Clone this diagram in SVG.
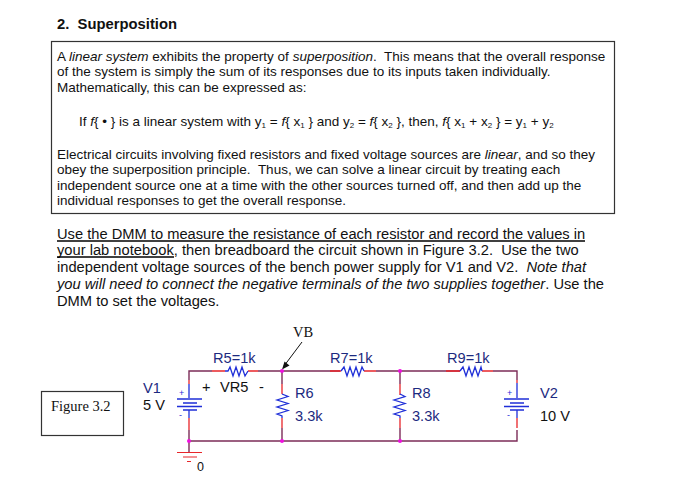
<svg xmlns="http://www.w3.org/2000/svg" width="684" height="486" viewBox="0 0 684 486">
<style>
text{font-family:"Liberation Sans",Arial,sans-serif;fill:#111;white-space:pre}
.b{font-size:13.5px}
.m{font-size:14.7px}
.l{font-size:14.6px;fill:#1c2a80}
.k{font-size:14.6px;fill:#111}
.s{font-family:"Liberation Serif","Times New Roman",serif;font-size:14.5px}
.w{fill:none;stroke:#7c2c58;stroke-width:1.4}
.r{fill:none;stroke:#e8262a;stroke-width:1.3}
.c{fill:none;stroke:#1f2fd8;stroke-width:1.3}
.d{fill:#f010e0}
.u{stroke:#000;stroke-width:1.3}
.p{font-size:9px;fill:#1f2fd8}
</style>
<rect width="684" height="486" fill="#fff"/>
<g id="page-text">
<text x="57" y="29" style="font-size:14.8px;font-weight:bold">2.  Superposition</text>
<rect x="51.5" y="41.5" width="563" height="172" fill="none" stroke="#333" stroke-width="1.2"/>
<text class="b" x="57" y="61">A <tspan font-style="italic">linear system</tspan> exhibits the property of <tspan font-style="italic">superposition</tspan>.  This means that the overall response</text>
<text class="b" x="57" y="76">of the system is simply the sum of its responses due to its inputs taken individually.</text>
<text class="b" x="57" y="92">Mathematically, this can be expressed as:</text>
<text class="b" x="79" y="126">If <tspan font-style="italic">f</tspan>{ • } is a linear system with y<tspan font-size="8" dy="1.5">1</tspan><tspan dy="-1.5"> = </tspan><tspan font-style="italic">f</tspan>{ x<tspan font-size="8" dy="1.5">1</tspan><tspan dy="-1.5"> } and y</tspan><tspan font-size="8" dy="1.5">2</tspan><tspan dy="-1.5"> = </tspan><tspan font-style="italic">f</tspan>{ x<tspan font-size="8" dy="1.5">2</tspan><tspan dy="-1.5"> }, then, </tspan><tspan font-style="italic">f</tspan>{ x<tspan font-size="8" dy="1.5">1</tspan><tspan dy="-1.5"> + x</tspan><tspan font-size="8" dy="1.5">2</tspan><tspan dy="-1.5"> } = y</tspan><tspan font-size="8" dy="1.5">1</tspan><tspan dy="-1.5"> + y</tspan><tspan font-size="8" dy="1.5">2</tspan></text>
<text class="b" x="57" y="159">Electrical circuits involving fixed resistors and fixed voltage sources are <tspan font-style="italic">linear</tspan>, and so they</text>
<text class="b" x="57" y="174">obey the superposition principle.  Thus, we can solve a linear circuit by treating each</text>
<text class="b" x="57" y="190">independent source one at a time with the other sources turned off, and then add up the</text>
<text class="b" x="57" y="205">individual responses to get the overall response.</text>
<text class="m" x="57" y="239">Use the DMM to measure the resistance of each resistor and record the values in</text>
<text class="m" x="57" y="255">your lab notebook<tspan>, then breadboard the circuit shown in Figure 3.2.  Use the two</tspan></text>
<text class="m" x="57" y="272">independent voltage sources of the bench power supply for V1 and V2.  <tspan font-style="italic">Note that</tspan></text>
<text class="m" x="57" y="289" font-style="italic">you will need to connect the negative terminals of the two supplies together<tspan font-style="normal">. Use the</tspan></text>
<text class="m" x="57" y="306">DMM to set the voltages.</text>
<line class="u" x1="57" y1="241" x2="585" y2="241"/>
<line class="u" x1="57" y1="257" x2="174" y2="257"/>
</g>
<g id="connectors">
<path class="w" d="M212 371H189V380M189 430V441M189 441V452M189 441H517V430M517 380V371H493M460 371H376M340 371H323M258 371H323M400 371V384M400 428V441M282 371V384M282 428V441"/>
<path class="r" d="M212 371H225M189 380V384M189 418V430M258 371H248M282 384V394M282 418V428M400 384V395M400 418V428M517 383V380M517 418V428M330 371H341M364 371H376M446 371H460M482 371H493"/>
<path d="M302 342L284 366" fill="none" stroke="#111" stroke-width="1"/>
<path d="M282 369.5L284.5 361.5L289.5 365.500Z" fill="#111"/>
</g>
<g id="V1">
<path class="c" d="M189 384V398M177 399H202M183 403H197M177 406.500H202M183 410H197M189 410V418"/>
<text class="p" x="179" y="396">+</text><text class="p" x="179" y="418">-</text>
<text class="l" x="143" y="393">V1</text><text class="k" x="143" y="410">5 V</text>
</g>
<g id="R5">
<path class="c" d="M225 371L228 371L230 367L233 376L236 367L239 376L242 367L245 376L248 371"/>
<text class="l" x="213" y="363">R5=1k</text>
<text class="k" x="202" y="392">+</text><text class="k" x="220" y="392">VR5</text><text class="k" x="259" y="392">-</text>
</g>
<g id="R6">
<path class="c" d="M282 394L288 396.500L277 400L288 403.500L277 407L288 410.500L277 414L282 416V418"/>
<text class="l" x="295" y="398">R6</text><text class="l" x="295" y="421">3.3k</text>
</g>
<g id="R7">
<path class="c" d="M341 371L344 367L347 376L350 367L353 376L356 367L359 376L362 367L364 371"/>
<text class="l" x="330" y="363">R7=1k</text>
</g>
<g id="R8">
<path class="c" d="M400 394L405 396.500L394 400L405 403.500L394 407L405 410.500L394 414L400 416V418"/>
<text class="l" x="412" y="398">R8</text><text class="l" x="412" y="421">3.3k</text>
</g>
<g id="R9">
<path class="c" d="M460 371L463 367L466 376L469 367L472 376L475 367L478 376L481 367L482 371"/>
<text class="l" x="447" y="363">R9=1k</text>
</g>
<g id="V2">
<path class="c" d="M517 383V398M504 399H529M510 403H524M504 406.500H529M510 410H524M517 410V418"/>
<text class="p" x="507" y="396">+</text><text class="p" x="507" y="418">-</text>
<text class="l" x="540" y="398">V2</text><text class="k" x="540" y="421">10 V</text>
</g>
<g id="ground">
<path d="M177 452.500H202M183 457H197M187 461.500H191" fill="none" stroke="#e8262a" stroke-width="1.1"/>
<text x="197" y="471" style="font-size:12.5px">0</text>
</g>
<g id="nodes">
<circle class="d" cx="282" cy="371" r="2"/><circle class="d" cx="400" cy="371" r="2"/><circle class="d" cx="189" cy="441" r="2"/><circle class="d" cx="282" cy="441" r="2"/><circle class="d" cx="400" cy="441" r="2"/>
</g>
<g id="VB"><text class="s" x="293" y="337">VB</text></g>
<g id="figure">
<rect x="41.500" y="391.500" width="82" height="44" fill="none" stroke="#333" stroke-width="1.2"/>
<text class="s" x="51" y="411">Figure 3.2</text>
</g>
</svg>
